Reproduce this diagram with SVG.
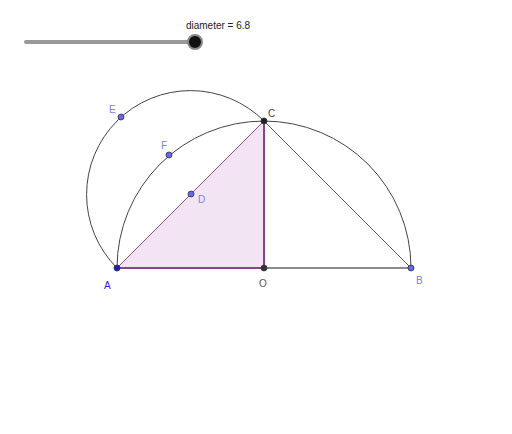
<svg xmlns="http://www.w3.org/2000/svg" width="512" height="434" viewBox="0 0 512 434">
<style>
.arc{fill:none;stroke:#444;stroke-width:1}
.lbl{font-family:"Liberation Sans",Arial,sans-serif;font-size:10px}
.pt{stroke:#333;stroke-width:0.8}
</style>
<rect width="512" height="434" fill="#fff"/>
<g id="slider">
<line x1="26" y1="42" x2="195" y2="42" stroke="#999" stroke-width="4" stroke-linecap="round"/>
<circle cx="195" cy="42" r="7" fill="#111" stroke="#888" stroke-width="2"/>
<text class="lbl" x="218" y="29" text-anchor="middle" fill="#222">diameter = 6.8</text>
</g>
<g id="triangle">
<polygon points="117,268 264,268 264,121" fill="#f2e4f2"/>
<line x1="117" y1="268" x2="264" y2="121" stroke="#994499" stroke-width="1"/>
<line x1="117" y1="268" x2="264" y2="268" stroke="#884488" stroke-width="2"/>
<line x1="264" y1="268" x2="264" y2="121" stroke="#884488" stroke-width="2"/>
</g>
<g id="connectors">
<path class="arc" d="M117,268 A147,147 0 0 1 411,268"/>
<path class="arc" d="M117,268 A103.94,103.94 0 0 1 264,121"/>
<line x1="264" y1="121" x2="411" y2="268" stroke="#555" stroke-width="1"/>
<line x1="264" y1="268" x2="411" y2="268" stroke="#666" stroke-width="1.5"/>
</g>
<g id="E"><circle class="pt" cx="121" cy="117" r="3" fill="#6666ee"/><text class="lbl" x="109" y="113" fill="#8080ee">E</text></g>
<g id="F"><circle class="pt" cx="169" cy="155" r="3" fill="#6666ee"/><text class="lbl" x="161" y="149" fill="#8080ee">F</text></g>
<g id="D"><circle class="pt" cx="191" cy="194" r="3" fill="#6666ee"/><text class="lbl" x="198" y="203" fill="#8080ee">D</text></g>
<g id="C"><circle class="pt" cx="264" cy="121" r="3" fill="#222"/><text class="lbl" x="268" y="117" fill="#444">C</text></g>
<g id="A"><circle class="pt" cx="117" cy="268" r="3" fill="#1a1acc"/><text class="lbl" x="104" y="289" fill="#2222dd">A</text></g>
<g id="O"><circle class="pt" cx="264" cy="268" r="3" fill="#333"/><text class="lbl" x="259" y="287" fill="#555">O</text></g>
<g id="B"><circle class="pt" cx="411" cy="268" r="3" fill="#6666ee"/><text class="lbl" x="416" y="284" fill="#8080ee">B</text></g>
</svg>
